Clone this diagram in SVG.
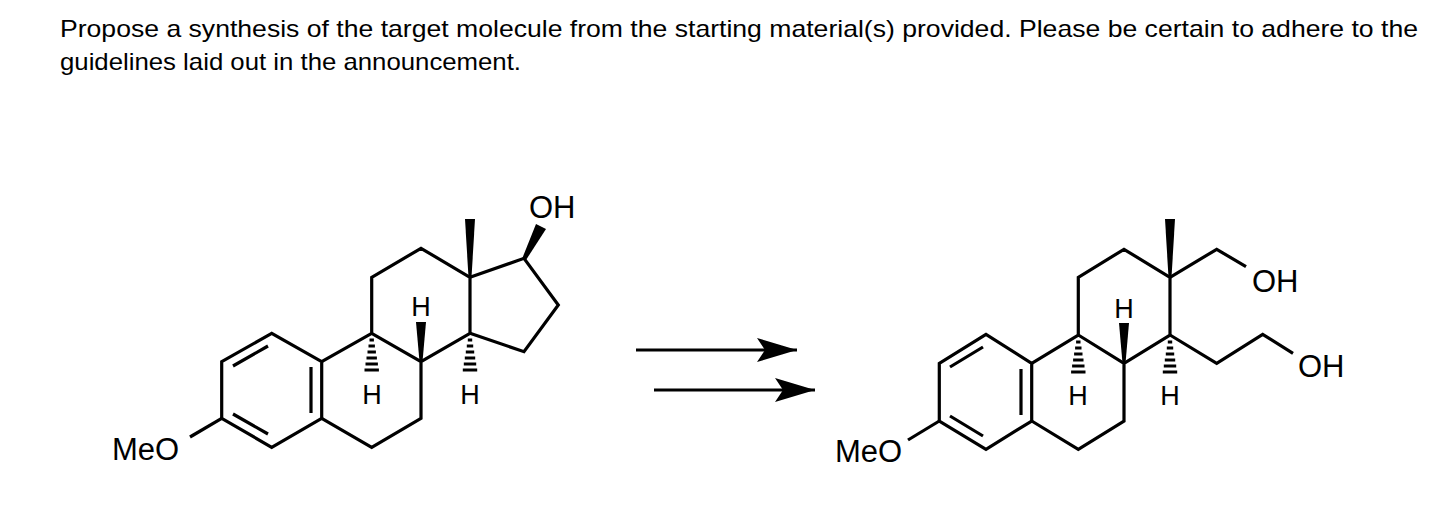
<svg xmlns="http://www.w3.org/2000/svg" width="1452" height="528" viewBox="0 0 1452 528">
<style>
.b{stroke:#000;stroke-width:3.2;fill:none;stroke-linejoin:miter;stroke-linecap:butt}
.t{font-family:"Liberation Sans",Arial,sans-serif;fill:#000}
.h{font-size:27px}
.l{font-size:31px}
.w{fill:#000}
</style>
<defs>
<marker id="ah" viewBox="0 0 40 24" refX="40" refY="12" markerWidth="40" markerHeight="24" markerUnits="userSpaceOnUse" orient="auto"><path d="M0,0 L40,12 L0,24 L8,12 Z" fill="#000"/></marker>
</defs>
<rect width="1452" height="528" fill="#fff"/>
<text class="t" x="60" y="37" font-size="24" textLength="1358" lengthAdjust="spacingAndGlyphs">Propose a synthesis of the target molecule from the starting material(s) provided. Please be certain to adhere to the</text>
<text class="t" x="60" y="70" font-size="24" textLength="461" lengthAdjust="spacingAndGlyphs">guidelines laid out in the announcement.</text>

<g id="starting-material">
<path class="b" d="M271.7,333.3 L221.7,361.7 L221.7,418.3 L271.7,447.3 L321.7,418.3 L321.7,361.7 Z"/>
<path class="b" d="M268,346 L233,366 M233,414 L268,434 M311,367 L311,413"/>
<path class="b" d="M321.7,361.7 L371.7,333.3 L371.7,277.3 L421,248.3 L470,277.3 L470,333.3 L421,361.7 L371.7,333.3 M421,361.7 L421,418.3 L371.7,447.3 L321.7,418.3"/>
<path class="b" d="M470,277.3 L524,258.3 L558.3,305 L524,351.7 L470,333.3"/>
<path class="b" d="M221.7,418.3 L190,437"/>
<polygon class="w" points="468.5,277.3 465,219 475,219 471.5,277.3"/>
<polygon class="w" points="522,259 536,224 546,229 526,260"/>
<polygon class="w" points="419.5,361.7 416,322 426,322 422.5,361.7"/>
<path class="b" stroke-width="2.5" d="M369.5,340 h4.4 M368.5,346 h6.4 M367.5,352 h8.4 M366.5,358 h10.4 M365.5,364 h12.4 M364.5,370 h14.4"/>
<path class="b" stroke-width="2.5" d="M467.8,340 h4.4 M466.8,346 h6.4 M465.8,352 h8.4 M464.8,358 h10.4 M463.8,364 h12.4 M462.8,370 h14.4"/>
<text class="t h" x="421" y="316" text-anchor="middle">H</text>
<text class="t h" x="372" y="404" text-anchor="middle">H</text>
<text class="t h" x="470" y="404" text-anchor="middle">H</text>
<text class="t l" x="529" y="218">OH</text>
<text class="t l" x="112" y="460">MeO</text>
</g>

<g id="connectors">
<line class="b" x1="636" y1="350" x2="797" y2="350" marker-end="url(#ah)"/>
<line class="b" x1="654" y1="390" x2="815" y2="390" marker-end="url(#ah)"/>
</g>

<g id="target">
<path class="b" d="M986,334.3 L939.3,363.3 L939.3,421 L986,449.3 L1031.7,421 L1031.7,363.3 Z"/>
<path class="b" d="M983,347 L950,367 M950,416 L983,436 M1021,369 L1021,415"/>
<path class="b" d="M1031.7,363.3 L1078.3,335 L1078.3,277.3 L1124,249.3 L1170,277.3 L1170,335 L1124,363.3 L1078.3,335 M1124,363.3 L1124,421 L1078.3,449.3 L1031.7,421"/>
<path class="b" d="M1170,277.3 L1216.7,249.3 L1246,266.7"/>
<path class="b" d="M1170,335 L1216.7,363.3 L1262.7,334.3 L1293,353.3"/>
<path class="b" d="M939.3,421 L908,440"/>
<polygon class="w" points="1168.5,277.3 1165,219 1175,219 1171.5,277.3"/>
<polygon class="w" points="1122.5,363.3 1119,323 1129,323 1125.5,363.3"/>
<path class="b" stroke-width="2.5" d="M1076.1,342 h4.4 M1075.1,348 h6.4 M1074.1,354 h8.4 M1073.1,360 h10.4 M1072.1,366 h12.4 M1071.1,372 h14.4"/>
<path class="b" stroke-width="2.5" d="M1167.8,342 h4.4 M1166.8,348 h6.4 M1165.8,354 h8.4 M1164.8,360 h10.4 M1163.8,366 h12.4 M1162.8,372 h14.4"/>
<text class="t h" x="1124" y="318" text-anchor="middle">H</text>
<text class="t h" x="1078" y="405" text-anchor="middle">H</text>
<text class="t h" x="1170" y="405" text-anchor="middle">H</text>
<text class="t l" x="1252" y="292">OH</text>
<text class="t l" x="1298" y="377">OH</text>
<text class="t l" x="835" y="462">MeO</text>
</g>
</svg>
